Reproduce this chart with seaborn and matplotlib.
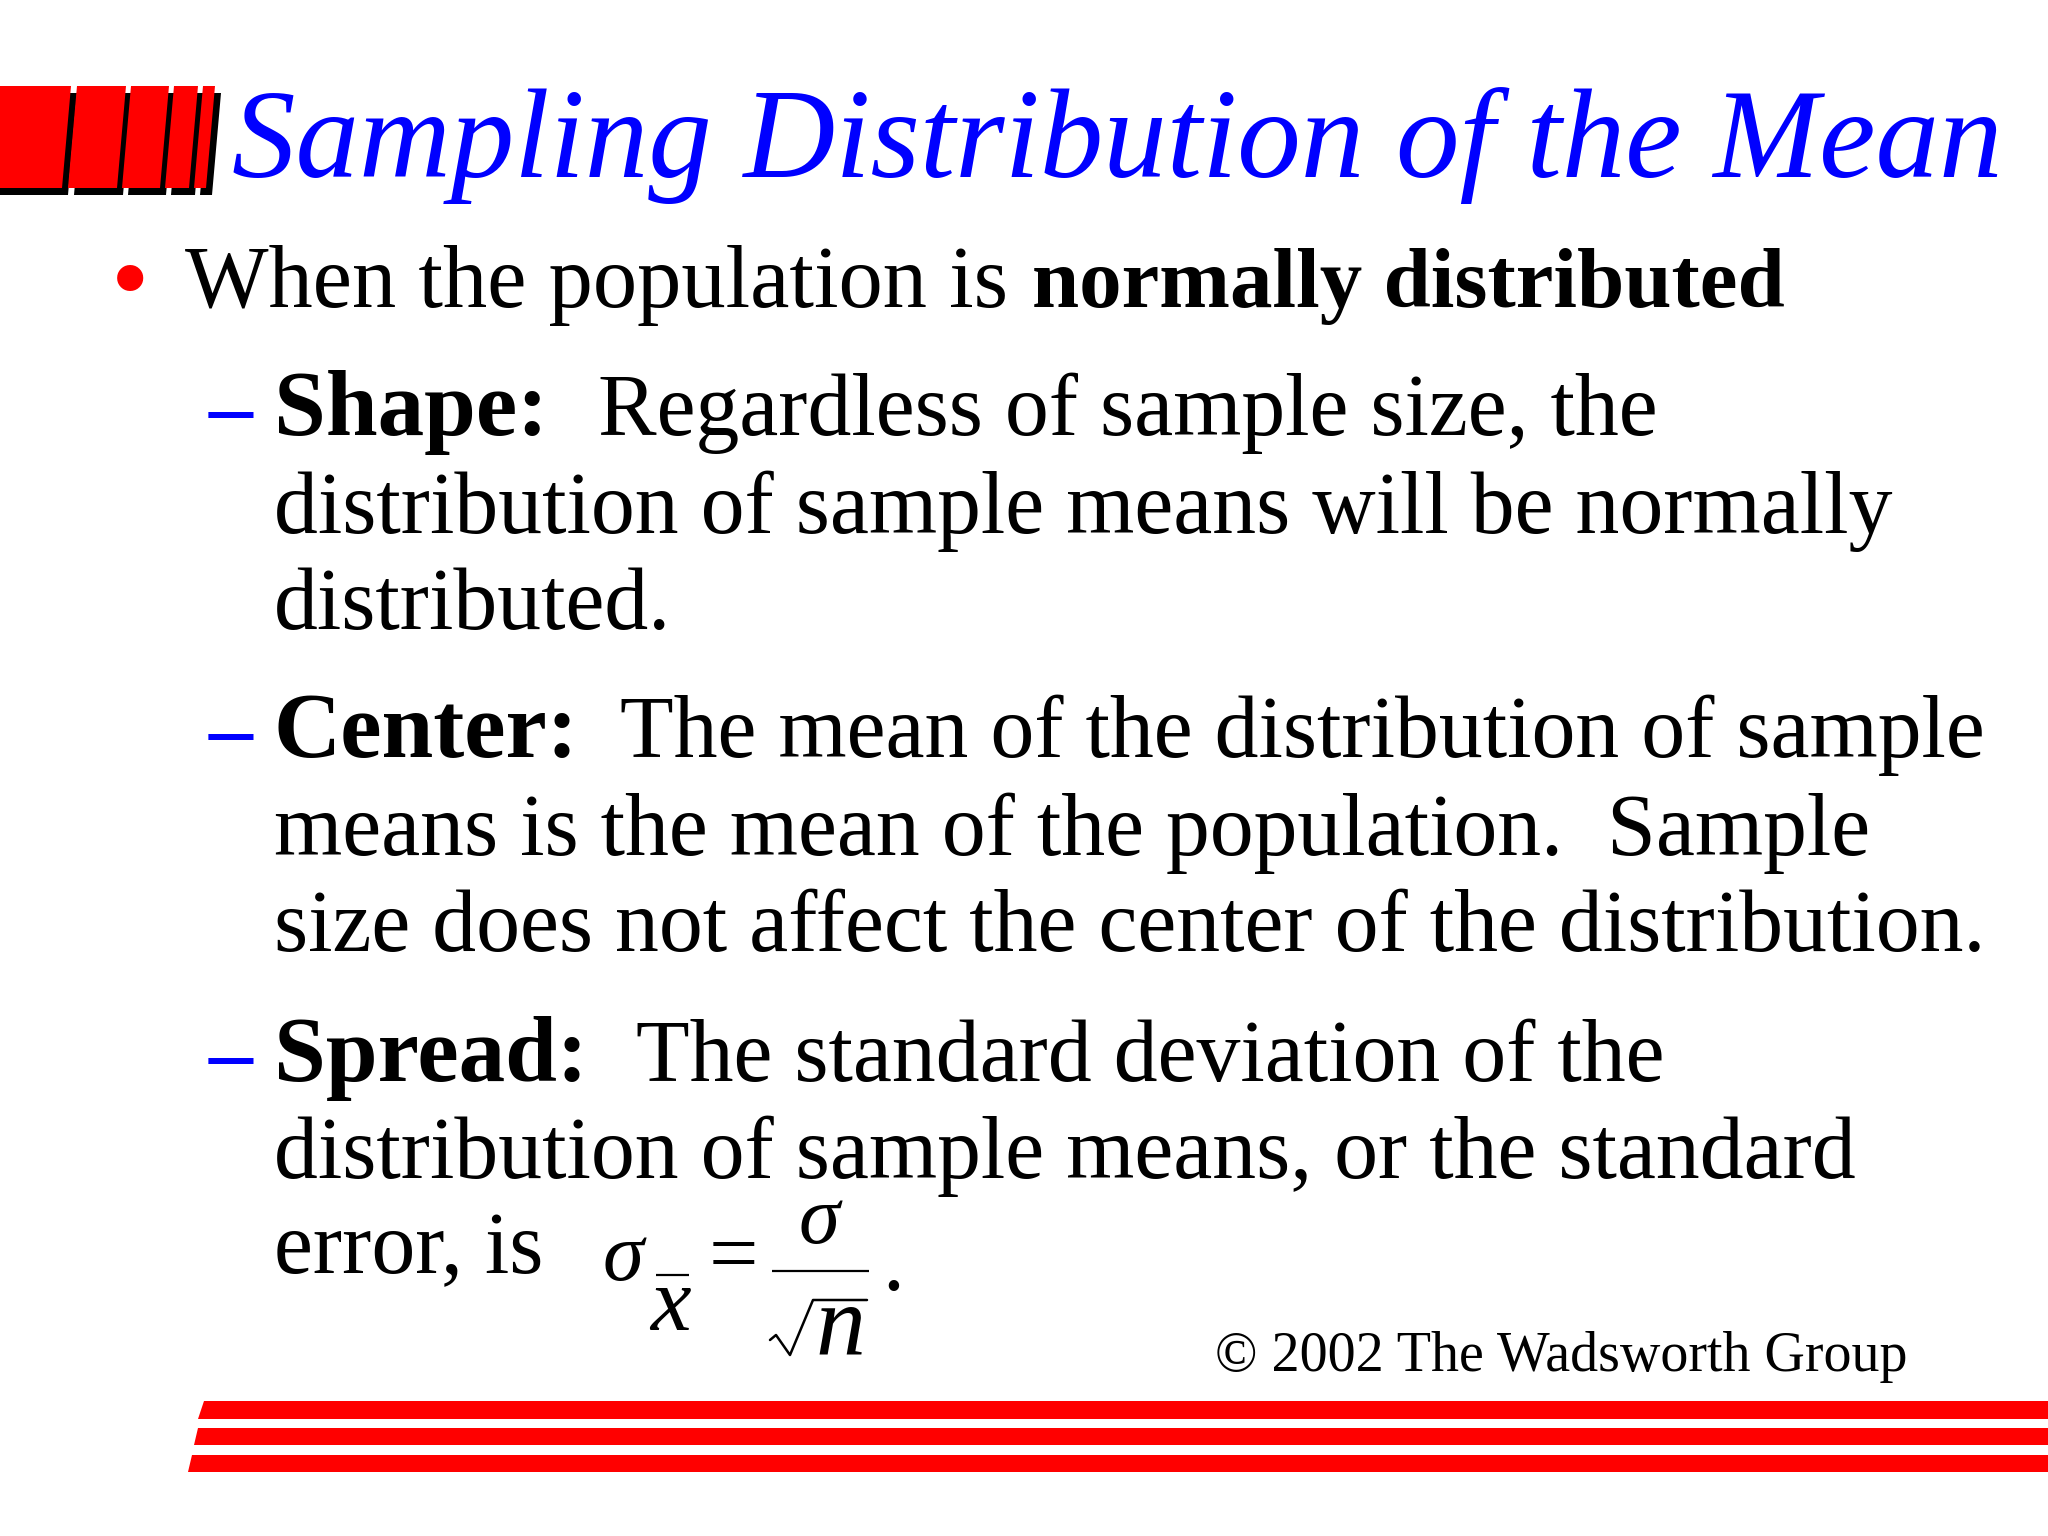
import numpy as np
import matplotlib
matplotlib.use("Agg")
import matplotlib.pyplot as plt
import seaborn as sns
from matplotlib.patches import Polygon

# slide text
title_text = "Sampling Distribution of the Mean"
bullet_parts = ["When the population is", "normally distributed"]
headings = ["Shape:", "Center:", "Spread:"]
heading_leads = ["Regardless of sample size, the",
                 "The mean of the distribution of sample",
                 "The standard deviation of the"]
continuations = [["distribution of sample means will be normally", "distributed."],
                 ["means is the mean of the population.  Sample",
                  "size does not affect the center of the distribution."],
                 ["distribution of sample means, or the standard", "error, is"]]
copyright_text = "\u00a9 2002 The Wadsworth Group"

# layout (pixels, y from top)
W, H = 2048, 1536
heading_base = [435, 757, 1081]
lead_x = [598, 620, 636]
lead_right = [1648, 1985, 1672]
cont_base = [[533, 629], [855, 951], [1178, 1273]]
cont_right = [[1900, 682], [1871, 1981], [1877, 542]]
indent = 274

sns.set_theme(style="white")
plt.rcParams['font.family'] = ['Liberation Serif', 'DejaVu Serif']

fig = plt.figure(figsize=(W / 100, H / 100), dpi=100)
ax = fig.add_axes([0, 0, 1, 1])
ax.set_xlim(0, W)
ax.set_ylim(H, 0)
ax.axis('off')
renderer = fig.canvas.get_renderer()


def fit_size(text, width, **kw):
    t = ax.text(0, 0, text, fontsize=100, **kw)
    w = t.get_window_extent(renderer).width
    t.remove()
    return 100 * width / w


# logo bars with shadows
bar_bottom = [(-10, 62), (68, 117), (122, 160), (165, 189), (194, 206)]
top_y, bot_y, slant = 86, 188, 9
for bl, br in bar_bottom:
    for dx, dy, col in [(6, 7, 'black'), (0, 0, '#ff0000')]:
        pts = [(bl + slant + dx, top_y + dy), (br + slant + dx, top_y + dy),
               (br + dx, bot_y + dy), (bl + dx, bot_y + dy)]
        ax.add_patch(Polygon(pts, closed=True, color=col, lw=0))

# title
ts = fit_size(title_text, 1771, style='italic')
ax.text(232, 177, title_text, fontsize=ts, style='italic', color='#0000ff', va='baseline')

# body size from full lines
fits = []
for i in range(3):
    fits.append(fit_size(heading_leads[i], lead_right[i] - lead_x[i]))
    for j in range(2):
        fits.append(fit_size(continuations[i][j], cont_right[i][j] - indent))
body = float(np.median(fits))
head = float(np.median([fit_size(h, w, weight='bold') for h, w in zip(headings, [281, 301, 314])]))

# first bullet
ax.text(130, 314, "\u2022", fontsize=body * 1.25, color='#ff0000', ha='center', va='baseline')
rs = fit_size(bullet_parts[0], 823)
ax.text(185, 307, bullet_parts[0], fontsize=rs, va='baseline', color='black')
bs = min(body, fit_size(bullet_parts[1], 752, weight='bold'))
ax.text(1032, 307, bullet_parts[1], fontsize=bs, weight='bold', va='baseline', color='black')

for i in range(3):
    ax.text(231, heading_base[i] + 1, "\u2013", fontsize=body, weight='bold', color='#0000ff',
            ha='center', va='baseline')
    ax.text(indent, heading_base[i], headings[i], fontsize=head, weight='bold', va='baseline', color='black')
    ax.text(lead_x[i], heading_base[i], heading_leads[i], fontsize=body, va='baseline', color='black')
    for j in range(2):
        ax.text(indent, cont_base[i][j], continuations[i][j], fontsize=body, va='baseline', color='black')

# standard error formula
fs = fit_size("\u03c3", 50, style='italic') * 0.82
ax.text(603, 1280, "\u03c3", fontsize=fs, style='italic', va='baseline', color='black')
ax.text(650, 1330, "x", fontsize=fs * 1.1, style='italic', va='baseline', color='black')
ax.plot([656, 689], [1275, 1275], color='black', lw=1.6, solid_capstyle='butt')
ax.text(733, 1282, "=", fontsize=body, ha='center', va='baseline', color='black')
ax.plot([772, 869], [1271, 1271], color='black', lw=1.6, solid_capstyle='butt')
ax.text(799, 1243, "\u03c3", fontsize=fs, style='italic', va='baseline', color='black')
ax.plot([770, 776, 790, 813, 867], [1340, 1335, 1355, 1300, 1300], color='black', lw=1.8)
ax.text(815, 1353, "n", fontsize=fs * 1.2, style='italic', va='baseline', color='black')
ax.text(893, 1290, ".", fontsize=body, ha='center', va='baseline', color='black')

# copyright
cs = fit_size(copyright_text, 692)
ax.text(1215, 1371, copyright_text, fontsize=cs, va='baseline', color='black')

# bottom stripes
stripes = [(1401, 1419, 204, 198), (1428, 1445, 198, 194), (1455, 1472, 192, 188)]
for y0, y1, xt, xb in stripes:
    ax.add_patch(Polygon([(xt, y0), (W, y0), (W, y1), (xb, y1)], closed=True, color='#ff0000', lw=0))

fig.savefig('out.png', dpi=100, facecolor='white')
